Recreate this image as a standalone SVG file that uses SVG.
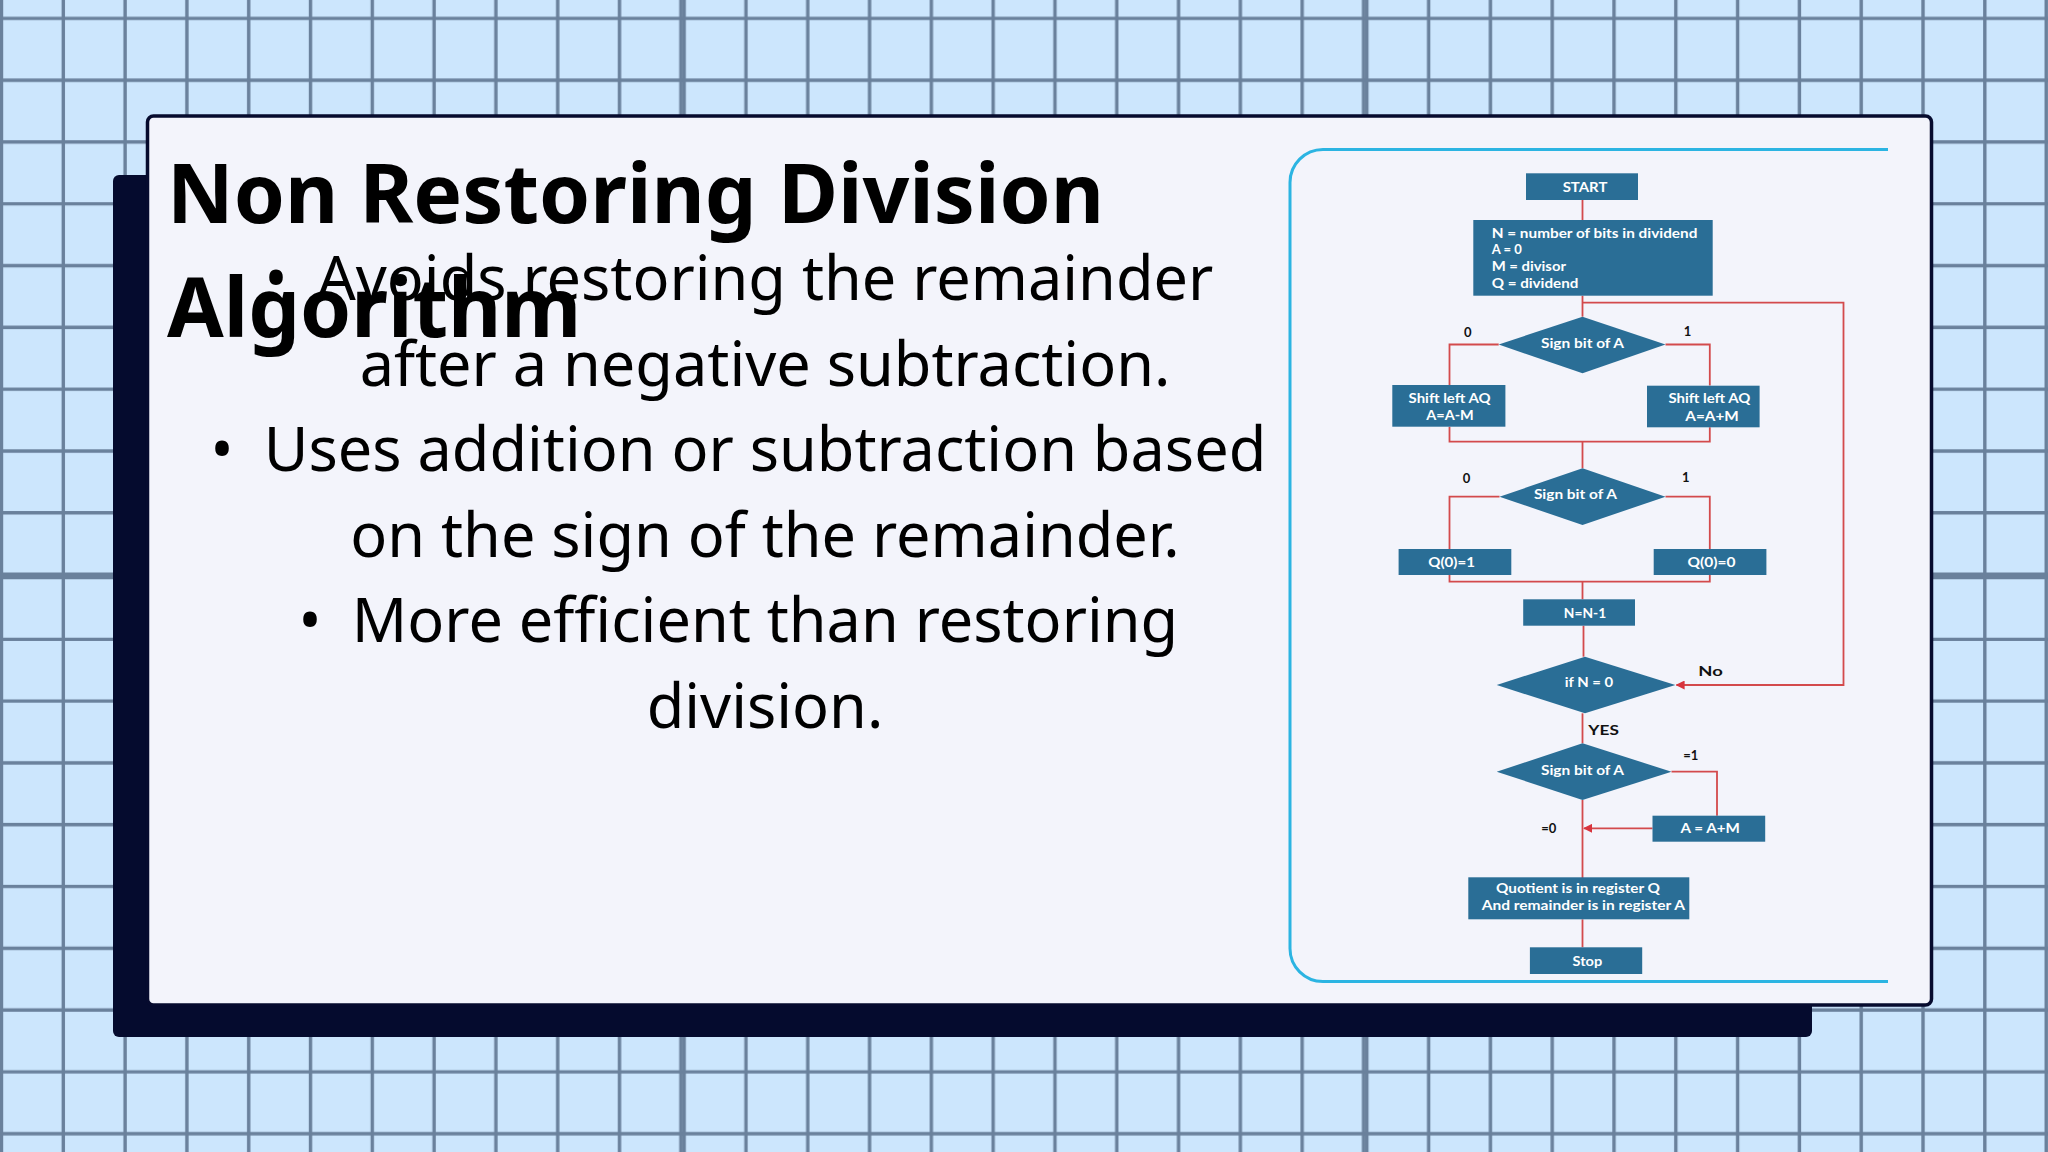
<svg xmlns="http://www.w3.org/2000/svg" width="2048" height="1152" viewBox="0 0 2048 1152">
  <defs>
    <pattern id="grid" patternUnits="userSpaceOnUse" x="0" y="-106.667" width="682.667" height="682.667">
      <rect width="682.667" height="682.667" fill="#cce6fd"/>
      <path d="M1.5,0V682.667M63.3,0V682.667M125.1,0V682.667M186.9,0V682.667M248.7,0V682.667M310.5,0V682.667M372.3,0V682.667M434.1,0V682.667M495.9,0V682.667M557.7,0V682.667M619.5,0V682.667M680.9,0V682.667M0,1.5H682.667M0,63.3H682.667M0,125.1H682.667M0,186.9H682.667M0,248.7H682.667M0,310.5H682.667M0,372.3H682.667M0,434.1H682.667M0,495.9H682.667M0,557.7H682.667M0,619.5H682.667M0,680.9H682.667" stroke="#6a819c" stroke-width="3.4" fill="none"/>
    </pattern>
    <marker id="arr" viewBox="0 0 10 10" refX="9" refY="5" markerWidth="9" markerHeight="9" markerUnits="userSpaceOnUse" orient="auto">
      <path d="M0,0L10,5L0,10Z" fill="#d8343d"/>
    </marker>
    <style>
      .title{font-family:"Noto Sans","Open Sans",sans-serif;font-weight:700;font-size:82px;fill:#000}
      .body{font-family:"Noto Sans","Open Sans",sans-serif;font-size:61.2px;fill:#000;text-anchor:middle}
      .bul{font-family:"Noto Sans","Open Sans",sans-serif;font-size:61.2px;fill:#000;text-anchor:middle}
      .box{fill:#2a6e96}
      .fl{font-family:Lato,"Liberation Sans",sans-serif;font-weight:700;font-size:12.5px;fill:#ffffff;text-anchor:middle}
      .fll{font-family:Lato,"Liberation Sans",sans-serif;font-weight:700;font-size:12.5px;fill:#ffffff}
      .lab{font-family:Lato,"Liberation Sans",sans-serif;font-weight:700;font-size:13px;fill:#111;text-anchor:middle}
      .con{fill:none;stroke:#d34a4c;stroke-width:1.8}
    </style>
  </defs>

  <rect x="0" y="0" width="2048" height="1152" fill="url(#grid)"/>

  <g id="card">
    <rect x="113" y="175" width="1699" height="862" rx="6" fill="#050b2e"/>
    <rect x="147.5" y="116" width="1784" height="889" rx="6" fill="#f3f4fb" stroke="#060b2e" stroke-width="3.5"/>
  </g>

  <g id="title">
    <text class="title" x="167" y="223">Non Restoring Division</text>
    <text class="title" x="167" y="337">Algorithm</text>
  </g>

  <g id="bullets">
    <text class="bul" x="276" y="300">•</text>
    <text class="body" x="765" y="300">Avoids restoring the remainder</text>
    <text class="body" x="765" y="385.6">after a negative subtraction.</text>
    <text class="bul" x="222" y="471.2">•</text>
    <text class="body" x="765" y="471.2">Uses addition or subtraction based</text>
    <text class="body" x="765" y="556.8">on the sign of the remainder.</text>
    <text class="bul" x="310" y="642.4">•</text>
    <text class="body" x="765" y="642.4">More efficient than restoring</text>
    <text class="body" x="765" y="728">division.</text>
  </g>

  <g id="frame">
    <path d="M1888,149.5H1323A33,33 0 0 0 1290,182.5V948.5A33,33 0 0 0 1323,981.5H1888" fill="none" stroke="#2bb4e2" stroke-width="3"/>
  </g>

  <g id="connectors">
    <path class="con" d="M1582.5,200V220"/>
    <path class="con" d="M1582.5,295.7V316.7"/>
    <path class="con" d="M1582.5,302.7H1843.5V685H1676.5" marker-end="url(#arr)"/>
    <path class="con" d="M1498.7,344.5H1449.5V385"/>
    <path class="con" d="M1665.5,344.5H1709.8V385.5"/>
    <path class="con" d="M1449.5,426.7V441.7H1709.8V427.3"/>
    <path class="con" d="M1582.5,441.7V468.3"/>
    <path class="con" d="M1499.5,496.7H1449.5V549"/>
    <path class="con" d="M1665.5,496.7H1709.8V549"/>
    <path class="con" d="M1449.5,575V581.7H1709.8V575"/>
    <path class="con" d="M1582.5,581.7V599.3"/>
    <path class="con" d="M1583.5,625.7V656.7"/>
    <path class="con" d="M1582.5,713.3V743.3"/>
    <path class="con" d="M1671.5,771.7H1717V815.7"/>
    <path class="con" d="M1652.5,828.3H1584" marker-end="url(#arr)"/>
    <path class="con" d="M1582.5,800V878.3"/>
    <path class="con" d="M1582.5,919.3V947.3"/>
  </g>

  <g id="n-start">
    <rect class="box" x="1526" y="173.3" width="112" height="26.7"/>
    <text class="fl" x="1585" y="191.7" font-size="15" textLength="44.7" lengthAdjust="spacingAndGlyphs">START</text>
  </g>

  <g id="n-init">
    <rect class="box" x="1473.3" y="220" width="239.4" height="75.7"/>
    <text class="fll" x="1491.7" y="238.3" textLength="205.7" lengthAdjust="spacingAndGlyphs">N = number of bits in dividend</text>
    <text class="fll" x="1491.7" y="254" textLength="30" lengthAdjust="spacingAndGlyphs">A = 0</text>
    <text class="fll" x="1491.7" y="270.7" textLength="74.3" lengthAdjust="spacingAndGlyphs">M = divisor</text>
    <text class="fll" x="1491.7" y="288.3" font-weight="400" textLength="86.7" lengthAdjust="spacingAndGlyphs">Q = dividend</text>
  </g>

  <g id="n-sign1">
    <path class="box" d="M1582.5,316.7L1665.5,344.5L1582.5,373.3L1498.7,344.5Z"/>
    <text class="fl" x="1582.5" y="348.3" textLength="83" lengthAdjust="spacingAndGlyphs">Sign bit of A</text>
    <text class="lab" x="1467.8" y="336.7">0</text>
    <text class="lab" x="1687.6" y="336">1</text>
  </g>

  <g id="n-shift-sub">
    <rect class="box" x="1392.3" y="385" width="113.1" height="41.7"/>
    <text class="fl" x="1449.6" y="402.7" textLength="82" lengthAdjust="spacingAndGlyphs">Shift left AQ</text>
    <text class="fl" x="1450" y="420" textLength="47.5" lengthAdjust="spacingAndGlyphs">A=A-M</text>
  </g>

  <g id="n-shift-add">
    <rect class="box" x="1647" y="385.7" width="112.6" height="41.6"/>
    <text class="fl" x="1709.4" y="403.3" textLength="82" lengthAdjust="spacingAndGlyphs">Shift left AQ</text>
    <text class="fl" x="1712" y="420.7" textLength="53.4" lengthAdjust="spacingAndGlyphs">A=A+M</text>
  </g>

  <g id="n-sign2">
    <path class="box" d="M1582.5,468.3L1665.5,496.7L1582.5,525L1499.5,496.7Z"/>
    <text class="fl" x="1575.4" y="499.3" textLength="83" lengthAdjust="spacingAndGlyphs">Sign bit of A</text>
    <text class="lab" x="1466.4" y="483.3">0</text>
    <text class="lab" x="1685.7" y="482.3">1</text>
  </g>

  <g id="n-q1">
    <rect class="box" x="1398.6" y="549" width="112.7" height="26"/>
    <text class="fl" x="1451.6" y="566.7" textLength="46.7" lengthAdjust="spacingAndGlyphs">Q(0)=1</text>
  </g>

  <g id="n-q0">
    <rect class="box" x="1653.7" y="549" width="112.7" height="26"/>
    <text class="fl" x="1711.4" y="566.7" textLength="48" lengthAdjust="spacingAndGlyphs">Q(0)=0</text>
  </g>

  <g id="n-dec">
    <rect class="box" x="1523.2" y="599.3" width="111.8" height="26.4"/>
    <text class="fl" x="1585" y="618.3" textLength="42.3" lengthAdjust="spacingAndGlyphs">N=N-1</text>
  </g>

  <g id="n-check">
    <path class="box" d="M1585,656.7L1675.4,685L1585,713.3L1496.7,685Z"/>
    <text class="fl" x="1588.9" y="687.3" textLength="48.3" lengthAdjust="spacingAndGlyphs">if N = 0</text>
    <text class="lab" x="1710.6" y="676" font-size="14" textLength="24.5" lengthAdjust="spacingAndGlyphs">No</text>
    <text class="lab" x="1603.6" y="735" textLength="30.5" lengthAdjust="spacingAndGlyphs">YES</text>
  </g>

  <g id="n-sign3">
    <path class="box" d="M1582.5,743.3L1671.5,771.7L1582.5,800L1496.7,771.7Z"/>
    <text class="fl" x="1582.5" y="775" textLength="83" lengthAdjust="spacingAndGlyphs">Sign bit of A</text>
    <text class="lab" x="1690.8" y="760">=1</text>
    <text class="lab" x="1548.7" y="832.7">=0</text>
  </g>

  <g id="n-restore">
    <rect class="box" x="1652.5" y="815.7" width="112.7" height="26"/>
    <text class="fl" x="1710.2" y="833.3" textLength="59.3" lengthAdjust="spacingAndGlyphs">A = A+M</text>
  </g>

  <g id="n-result">
    <rect class="box" x="1468.3" y="877.3" width="221" height="42"/>
    <text class="fl" x="1578" y="893.3" textLength="164" lengthAdjust="spacingAndGlyphs">Quotient is in register Q</text>
    <text class="fl" x="1583.3" y="910" textLength="203.3" lengthAdjust="spacingAndGlyphs">And remainder is in register A</text>
  </g>

  <g id="n-stop">
    <rect class="box" x="1529.9" y="947.3" width="112.3" height="26.7"/>
    <text class="fl" x="1587.4" y="966" textLength="29.7" lengthAdjust="spacingAndGlyphs">Stop</text>
  </g>
</svg>
